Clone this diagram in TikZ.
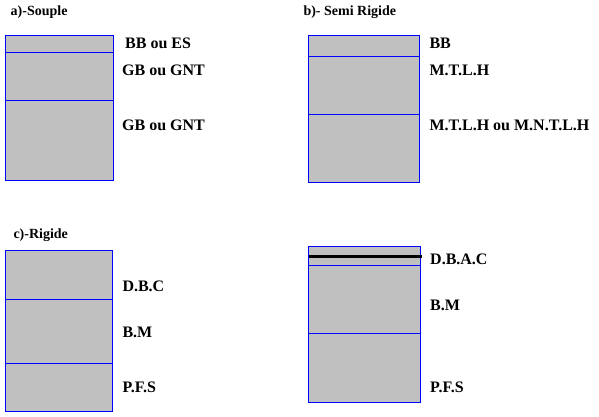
\documentclass[tikz,border=0pt]{standalone}
\usepackage{fontspec}
\setmainfont{Liberation Serif}
\begin{document}
\begin{tikzpicture}[x=1pt,y=-1pt,
  layer/.style={fill=boxgray,draw=boxblue,line width=1pt},
  sep/.style={draw=boxblue,line width=1pt},
  lab/.style={anchor=base west,inner sep=0pt,font=\fontsize{16}{18}\selectfont\bfseries},
  ttl/.style={anchor=base west,inner sep=0pt,font=\fontsize{14}{16}\selectfont\bfseries}]
\definecolor{boxgray}{RGB}{192,192,192}
\definecolor{boxblue}{RGB}{0,0,255}
\useasboundingbox (0,0) rectangle (599,416);
% a) Souple
\node[ttl] (ta) at (10.5,15) {a)-Souple};
\draw[layer] (5.5,35.5) rectangle (113.5,180.5);
\coordinate (a1l) at (5.5,52.5); \coordinate (a1r) at (113.5,52.5);
\coordinate (a2l) at (5.5,100.5); \coordinate (a2r) at (113.5,100.5);
\draw[sep] (a1l) -- (a1r);
\draw[sep] (a2l) -- (a2r);
\node[lab] (la1) at (125,48.3) {BB ou ES};
\node[lab] (la2) at (122,75.3) {GB ou GNT};
\node[lab] (la3) at (122,130.7) {GB ou GNT};
% b) Semi Rigide
\node[ttl] (tb) at (303.3,15) {b)- Semi Rigide};
\draw[layer] (308.5,35.5) rectangle (419.5,182.5);
\coordinate (b1l) at (308.5,56.5); \coordinate (b1r) at (419.5,56.5);
\coordinate (b2l) at (308.5,114.5); \coordinate (b2r) at (419.5,114.5);
\draw[sep] (b1l) -- (b1r);
\draw[sep] (b2l) -- (b2r);
\node[lab] (lb1) at (429.3,48.3) {BB};
\node[lab] (lb2) at (429.3,75.3) {M.T.L.H};
\node[lab] (lb3) at (429.3,130.7) {M.T.L.H ou M.N.T.L.H};
% c) Rigide
\node[ttl] (tc) at (13.3,238) {c)-Rigide};
\draw[layer] (5.5,250.5) rectangle (112.5,411.5);
\coordinate (c1l) at (5.5,299.5); \coordinate (c1r) at (112.5,299.5);
\coordinate (c2l) at (5.5,363.5); \coordinate (c2r) at (112.5,363.5);
\draw[sep] (c1l) -- (c1r);
\draw[sep] (c2l) -- (c2r);
\node[lab] (lc1) at (122.3,291.7) {D.B.C};
\node[lab] (lc2) at (122.3,337.7) {B.M};
\node[lab] (lc3) at (122.3,392.3) {P.F.S};
% d)
\draw[layer] (308.5,246.5) rectangle (420.5,402.5);
\coordinate (d0l) at (308.5,256.7); \coordinate (d0r) at (421.7,256.7);
\coordinate (d1l) at (308.5,265.5); \coordinate (d1r) at (420.5,265.5);
\coordinate (d2l) at (308.5,333.5); \coordinate (d2r) at (420.5,333.5);
\draw[black,line width=3pt] (d0l) -- (d0r);
\draw[sep] (d1l) -- (d1r);
\draw[sep] (d2l) -- (d2r);
\node[lab] (ld1) at (430,264.3) {D.B.A.C};
\node[lab] (ld2) at (430,310) {B.M};
\node[lab] (ld3) at (430,392.3) {P.F.S};
\end{tikzpicture}
\end{document}
